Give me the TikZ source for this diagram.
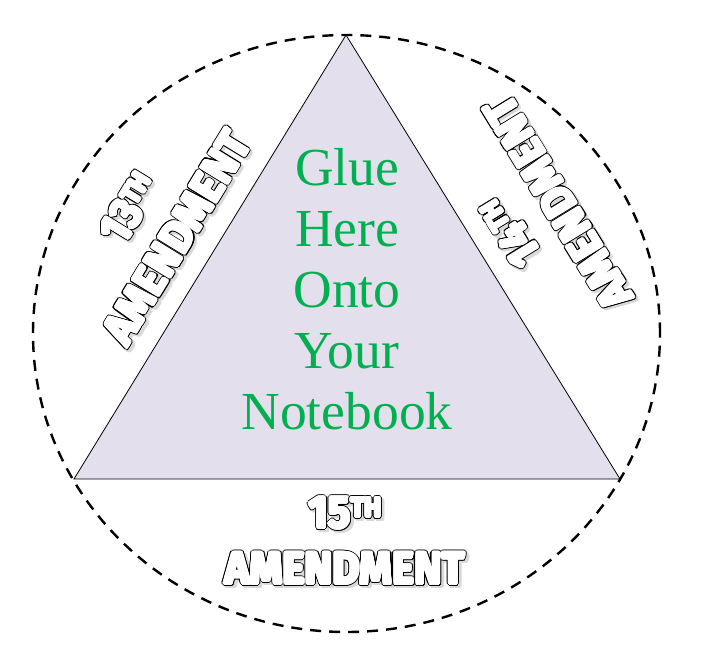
\documentclass[tikz,border=0pt]{standalone}
\usepackage{fontspec}
\setmainfont{Liberation Serif}
\newfontfamily\amfont{Fira Sans}[FakeStretch=0.93]
\usepackage{xcolor}
\usepackage{contour}
\usepackage{tikz}
\definecolor{gluegreen}{HTML}{00B050}
\definecolor{lilac}{HTML}{E4DFEC}
\newcommand{\amword}[3]{\rlap{\contourlength{2.5pt}\contour{#1}{\textcolor{#1}{#3}}}\contourlength{1.4pt}\contour{#2}{\textcolor{#2}{#3}}}
\newcommand{\amlabel}[3]{\amword{#1}{#2}{#3}\raisebox{11pt}{\fontsize{27}{27}\selectfont\amword{#1}{#2}{TH}}\\\amword{#1}{#2}{AMENDMENT}}

\begin{document}
\begin{tikzpicture}[x=1pt, y=1pt,
    amend/.style={font=\amfont\bfseries\fontsize{45}{56}\selectfont, align=center, inner sep=0pt},
    gluetext/.style={font=\fontsize{53.5}{61}\selectfont, text=gluegreen, align=center, inner sep=0pt}]
    \useasboundingbox (0,0) rectangle (705,672);
    \draw[dash pattern=on 11pt off 8pt, line width=2.4pt] (346.5,338.5) ellipse [x radius=313.5, y radius=298.5];
    \coordinate (apex) at (346,637);
    \coordinate (left) at (74,193);
    \coordinate (right) at (620,193);
    \draw[fill=lilac, line width=0.8pt] (apex) -- (left) -- (right) -- cycle;
    \node[gluetext] (glue) at (347,383) {Glue\\Here\\Onto\\Your\\Notebook};
    % amendment labels
    \node[amend, rotate=58.5] (sh13) at (156.5,446) {\amlabel{gray!30}{gray!30}{13}};
    \node[amend, rotate=58.5] (am13) at (154,448.5) {\amlabel{black}{white}{13}};
    \node[amend, rotate=121.5] (sh14) at (538,452.5) {\amlabel{gray!30}{gray!30}{14}};
    \node[amend, rotate=121.5] (am14) at (535.5,455) {\amlabel{black}{white}{14}};
    \node[amend] (sh15) at (347.5,127.5) {\amlabel{gray!30}{gray!30}{15}};
    \node[amend] (am15) at (345,130) {\amlabel{black}{white}{15}};
\end{tikzpicture}
\end{document}
